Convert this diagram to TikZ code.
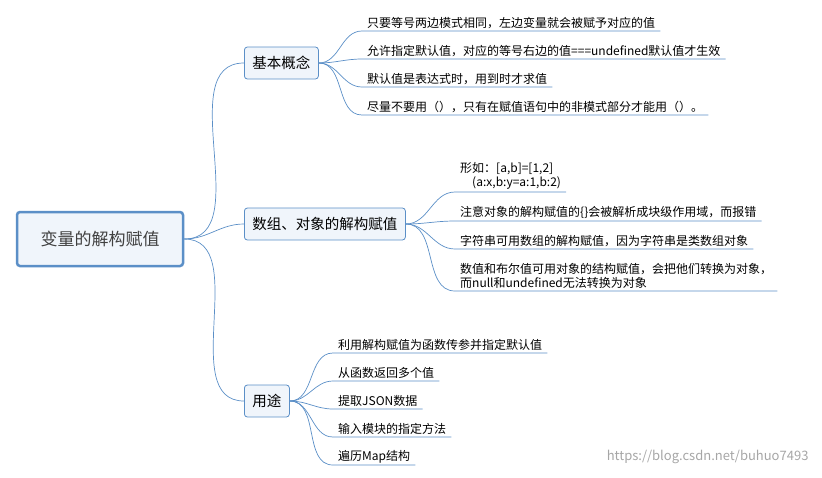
\documentclass[tikz,border=0pt]{standalone}
\usepackage{fontspec}
\setmainfont{Noto Sans CJK SC}
\usetikzlibrary{positioning}
\definecolor{linkblue}{HTML}{5B8FC7}
\definecolor{boxfill}{HTML}{F0F5FB}
\tikzset{
  rootbox/.style={draw=linkblue, line width=2.5pt, fill=boxfill, rounded corners=3pt,
    minimum width=166pt, minimum height=54pt, font=\fontsize{17}{20}\selectfont, text=black!75},
  branchbox/.style={draw=linkblue, line width=0.8pt, fill=boxfill, rounded corners=3pt,
    minimum height=32pt, inner xsep=8pt, font=\fontsize{14.5}{17}\selectfont},
  leaf/.style={anchor=south west, inner xsep=5pt, inner ysep=2pt, align=left,
    font=\fontsize{12}{14}\selectfont},
  link/.style={draw=linkblue, line width=0.7pt},
}
\begin{document}
\begin{tikzpicture}[x=1pt, y=-1pt]
  \useasboundingbox (0,0) rectangle (822,477);
  % main nodes
  \node[rootbox] (root) at (100,239) {变量的解构赋值};
  \node[branchbox, anchor=west] (basic) at (244,63) {基本概念};
  \node[branchbox, anchor=west] (arrobj) at (244,224) {数组、对象的解构赋值};
  \node[branchbox, anchor=west] (usage) at (244,401) {用途};
  \foreach \b in {basic, arrobj, usage}
    \draw[link] (root.east) to[out=0, in=180] (\b.west);
  % leaves of basic
  \node[leaf] (b1) at (362,31) {只要等号两边模式相同，左边变量就会被赋予对应的值};
  \node[leaf] (b2) at (362,59) {允许指定默认值，对应的等号右边的值===undefined默认值才生效};
  \node[leaf] (b3) at (362,87) {默认值是表达式时，用到时才求值};
  \node[leaf] (b4) at (362,115) {尽量不要用（），只有在赋值语句中的非模式部分才能用（）。};
  % leaves of arrobj
  \node[leaf] (a1) at (455,192) {形如：[a,b]=[1,2]\\\hspace{1em}({a:x,b:y}={a:1,b:2})};
  \node[leaf] (a2) at (455,221) {注意对象的解构赋值的\{\}会被解析成块级作用域，而报错};
  \node[leaf] (a3) at (455,249) {字符串可用数组的解构赋值，因为字符串是类数组对象};
  \node[leaf] (a4) at (455,291) {数值和布尔值可用对象的结构赋值，会把他们转换为对象，\\而null和undefined无法转换为对象};
  % leaves of usage
  \node[leaf] (u1) at (333,353) {利用解构赋值为函数传参并指定默认值};
  \node[leaf] (u2) at (333,381) {从函数返回多个值};
  \node[leaf] (u3) at (333,409) {提取JSON数据};
  \node[leaf] (u4) at (333,437) {输入模块的指定方法};
  \node[leaf] (u5) at (333,465) {遍历Map结构};
  \foreach \l in {b1,b2,b3,b4}
    \draw[link] (basic.east) to[out=0, in=180] (\l.south west) -- (\l.south east);
  \foreach \l in {a1,a2,a3,a4}
    \draw[link] (arrobj.east) to[out=0, in=180] (\l.south west) -- (\l.south east);
  \foreach \l in {u1,u2,u3,u4,u5}
    \draw[link] (usage.east) to[out=0, in=180] (\l.south west) -- (\l.south east);
  % watermark
  \node[anchor=east, text=black!35, font=\fontsize{13}{15}\selectfont] (mark) at (812,457) {https://blog.csdn.net/buhuo7493};
\end{tikzpicture}
\end{document}
